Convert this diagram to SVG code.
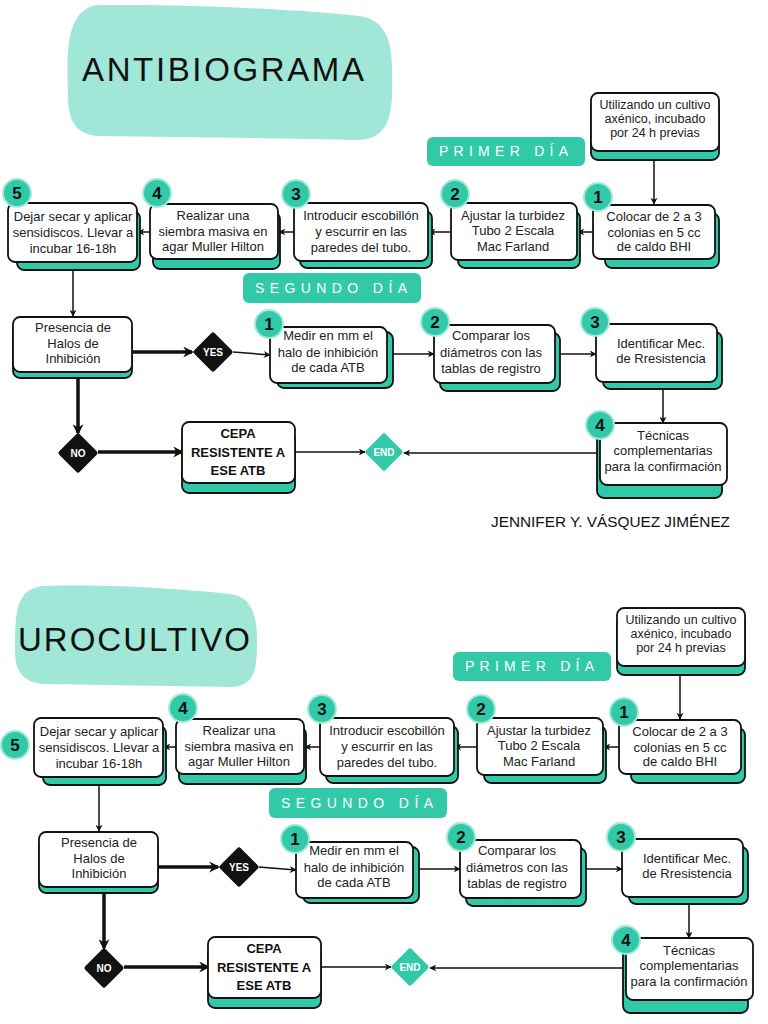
<svg xmlns="http://www.w3.org/2000/svg" width="768" height="1024" viewBox="0 0 768 1024">
<style>
.blob{fill:#a0e7d7}
.title{font-family:"Liberation Sans",Arial,sans-serif;font-size:33px;fill:#111}
.lab{fill:#31c9a7}
.labt{font-family:"Liberation Sans",Arial,sans-serif;font-size:14px;fill:#fff}
.sh{fill:#31c9a7;stroke:#111;stroke-width:1.8}
.bx{fill:#fff;stroke:#111;stroke-width:1.8}
.t{font-family:"Liberation Sans",Arial,sans-serif;font-size:13px;fill:#222;text-anchor:middle}
.tb{font-family:"Liberation Sans",Arial,sans-serif;font-size:13px;font-weight:bold;fill:#111;text-anchor:middle}
.nc{fill:#31c9a7;stroke:#a3e8d8;stroke-width:2}
.nt{font-family:"Liberation Sans",Arial,sans-serif;font-size:17px;font-weight:bold;fill:#111;text-anchor:middle}
.dk{fill:#111;stroke:#111;stroke-width:5;stroke-linejoin:round}
.dt{fill:#31c9a7;stroke:#31c9a7;stroke-width:5;stroke-linejoin:round}
.dtx{font-family:"Liberation Sans",Arial,sans-serif;font-size:10px;font-weight:bold;fill:#fff;text-anchor:middle}
.c{stroke:#111;stroke-width:1.5;fill:none}
.ck{stroke:#111;stroke-width:3.5;fill:none}
.auth{font-family:"Liberation Sans",Arial,sans-serif;font-size:14.5px;fill:#111}
</style>
<defs>
<marker id="ah" viewBox="0 0 10 10" refX="9" refY="5" markerWidth="7" markerHeight="7" markerUnits="userSpaceOnUse" orient="auto"><path d="M0,0 L10,5 L0,10 L3,5 z" fill="#111"/></marker>
<marker id="ahk" viewBox="0 0 10 10" refX="8" refY="5" markerWidth="11" markerHeight="11" markerUnits="userSpaceOnUse" orient="auto"><path d="M0,0 L10,5 L0,10 L3,5 z" fill="#111"/></marker>
</defs>
<rect width="768" height="1024" fill="#fff"/>

<!-- ============ ANTIBIOGRAMA ============ -->
<g id="antibiograma">
<g id="a-title">
<path class="blob" d="M100 5 C200 4 300 10 360 16 C385 20 392 40 392 70 C393 110 392 138 360 140 C280 138 180 137 100 136 C75 135 68 120 68 95 C67 60 66 30 80 14 C86 8 92 5 100 5 Z"/>
<text class="title" x="82" y="81" textLength="282" lengthAdjust="spacing">ANTIBIOGRAMA</text>
</g>
<g id="a-primer">
<rect class="lab" x="427" y="137" width="158" height="29" rx="6"/>
<text class="labt" x="439" y="156" textLength="129" lengthAdjust="spacing">PRIMER DÍA</text>
</g>
<g id="a-segundo">
<rect class="lab" x="243" y="273" width="178" height="30" rx="6"/>
<text class="labt" x="255" y="293" textLength="152" lengthAdjust="spacing">SEGUNDO DÍA</text>
</g>

<g id="a-connectors">
<path class="c" d="M654 160 V204" marker-end="url(#ah)"/>
<path class="c" d="M593 232 H578" marker-end="url(#ah)"/>
<path class="c" d="M451 232 H429" marker-end="url(#ah)"/>
<path class="c" d="M294 232 H279" marker-end="url(#ah)"/>
<path class="c" d="M150 232 H138" marker-end="url(#ah)"/>
<path class="c" d="M73 270 V316" marker-end="url(#ah)"/>
<path class="ck" d="M132 352 H192" marker-end="url(#ahk)"/>
<path class="c" d="M233 352 L270 355" marker-end="url(#ah)"/>
<path class="ck" d="M78 378 V433" marker-end="url(#ahk)"/>
<path class="ck" d="M98 452 H182" marker-end="url(#ahk)"/>
<path class="c" d="M295 452 H365" marker-end="url(#ah)"/>
<path class="c" d="M387 354 H434" marker-end="url(#ah)"/>
<path class="c" d="M547 354 H596" marker-end="url(#ah)"/>
<path class="c" d="M663 389 V423" marker-end="url(#ah)"/>
<path class="c" d="M597 453 H404" marker-end="url(#ah)"/>
</g>

<g id="a-utilizando">
<rect class="sh" x="591" y="101" width="128" height="59" rx="7"/>
<rect class="bx" x="591" y="93" width="128" height="58" rx="7"/>
<text class="t" style="font-size:12.5px"><tspan x="655" y="109">Utilizando un cultivo</tspan><tspan x="655" y="123">axénico, incubado</tspan><tspan x="655" y="137">por 24 h previas</tspan></text>
</g>
<g id="a-colocar">
<rect class="sh" x="605" y="213" width="114" height="55" rx="7"/>
<rect class="bx" x="593" y="205" width="122" height="54" rx="7"/>
<text class="t"><tspan x="654" y="221">Colocar de 2 a 3</tspan><tspan x="654" y="236.5">colonias en 5 cc</tspan><tspan x="654" y="251">de caldo BHI</tspan></text>
<circle class="nc" cx="598" cy="197" r="14"/><text class="nt" x="598" y="203">1</text>
</g>
<g id="a-ajustar">
<rect class="sh" x="458" y="211" width="122" height="57" rx="7"/>
<rect class="bx" x="451" y="203" width="126" height="57" rx="7"/>
<text class="t"><tspan x="513" y="219.5">Ajustar la turbidez</tspan><tspan x="513" y="235">Tubo 2 Escala</tspan><tspan x="513" y="250.5">Mac Farland</tspan></text>
<circle class="nc" cx="455" cy="194" r="14"/><text class="nt" x="455" y="200">2</text>
</g>
<g id="a-introducir">
<rect class="sh" x="300" y="211" width="132" height="57" rx="7"/>
<rect class="bx" x="294" y="203" width="134" height="58" rx="7"/>
<text class="t"><tspan x="361" y="220">Introducir escobillón</tspan><tspan x="361" y="236">y escurrir en las</tspan><tspan x="361" y="251.5">paredes del tubo.</tspan></text>
<circle class="nc" cx="296" cy="194" r="14"/><text class="nt" x="296" y="200">3</text>
</g>
<g id="a-realizar">
<rect class="sh" x="153" y="212" width="127" height="57" rx="7"/>
<rect class="bx" x="150" y="204" width="128" height="55" rx="7"/>
<text class="t"><tspan x="213" y="219.5">Realizar una</tspan><tspan x="213" y="236">siembra masiva en</tspan><tspan x="213" y="251">agar Muller Hilton</tspan></text>
<circle class="nc" cx="157" cy="193" r="14"/><text class="nt" x="157" y="199">4</text>
</g>
<g id="a-dejar">
<rect class="sh" x="17" y="211" width="123" height="59" rx="7"/>
<rect class="bx" x="8" y="203" width="129" height="59" rx="7"/>
<text class="t"><tspan x="73" y="221">Dejar secar y aplicar</tspan><tspan x="73" y="236.5">sensidiscos. Llevar a</tspan><tspan x="73" y="252.5">incubar 16-18h</tspan></text>
<circle class="nc" cx="17" cy="193" r="14"/><text class="nt" x="17" y="199">5</text>
</g>
<g id="a-presencia">
<rect class="sh" x="13" y="325" width="119" height="53" rx="7"/>
<rect class="bx" x="13" y="317" width="119" height="55" rx="7"/>
<text class="t"><tspan x="73" y="331.5">Presencia de</tspan><tspan x="73" y="347.5">Halos de</tspan><tspan x="73" y="363">Inhibición</tspan></text>
</g>
<g id="a-yes">
<path class="dk" d="M213 335 L230 352 L213 369 L196 352 Z"/>
<text class="dtx" x="213" y="356">YES</text>
</g>
<g id="a-no">
<path class="dk" d="M78 436 L95 453 L78 470 L61 453 Z"/>
<text class="dtx" x="78" y="457">NO</text>
</g>
<g id="a-end">
<path class="dt" d="M384 436 L400 452 L384 468 L368 452 Z"/>
<text class="dtx" x="384" y="456">END</text>
</g>
<g id="a-medir">
<rect class="sh" x="277" y="332" width="116" height="56" rx="7"/>
<rect class="bx" x="270" y="327" width="117" height="56" rx="7"/>
<text class="t"><tspan x="328" y="340">Medir en mm el</tspan><tspan x="328" y="356.5">halo  de inhibición</tspan><tspan x="328" y="372">de cada ATB</tspan></text>
<circle class="nc" cx="269" cy="324" r="14"/><text class="nt" x="269" y="330">1</text>
</g>
<g id="a-comparar">
<rect class="sh" x="440" y="333" width="120" height="58" rx="7"/>
<rect class="bx" x="434" y="325" width="121" height="58" rx="7"/>
<text class="t"><tspan x="491" y="340">Comparar los</tspan><tspan x="491" y="356.5">diámetros con las</tspan><tspan x="491" y="372.5">tablas de registro</tspan></text>
<circle class="nc" cx="435" cy="322" r="14"/><text class="nt" x="435" y="328">2</text>
</g>
<g id="a-identificar">
<rect class="sh" x="603" y="332" width="119" height="57" rx="7"/>
<rect class="bx" x="596" y="324" width="121" height="58" rx="7"/>
<text class="t"><tspan x="661" y="347.5">Identificar Mec.</tspan><tspan x="661" y="363">de Rresistencia</tspan></text>
<circle class="nc" cx="595" cy="322" r="14"/><text class="nt" x="595" y="328">3</text>
</g>
<g id="a-tecnicas">
<rect class="sh" x="597" y="433" width="125" height="65" rx="7"/>
<rect class="bx" x="600" y="423" width="127" height="62" rx="7"/>
<text class="t"><tspan x="663" y="439.5">Técnicas</tspan><tspan x="663" y="455">complementarias</tspan><tspan x="663" y="471">para la confirmación</tspan></text>
<circle class="nc" cx="600" cy="425" r="14"/><text class="nt" x="600" y="431">4</text>
</g>
<g id="a-cepa">
<rect class="sh" x="182" y="432" width="113" height="61" rx="7"/>
<rect class="bx" x="182" y="422" width="113" height="61" rx="7"/>
<text class="tb"><tspan x="238" y="437.5">CEPA</tspan><tspan x="238" y="456.5">RESISTENTE A</tspan><tspan x="238" y="475">ESE ATB</tspan></text>
</g>
<text id="author" class="auth" x="491" y="527" textLength="239" lengthAdjust="spacingAndGlyphs">JENNIFER Y. VÁSQUEZ JIMÉNEZ</text>
</g>

<!-- ============ UROCULTIVO ============ -->
<g id="u-title">
<path class="blob" d="M45 586 C120 584 190 590 230 594 C252 597 257 615 257 640 C257 670 255 686 230 687 C170 686 100 685 45 684 C22 683 15 670 15 650 C15 620 16 600 28 591 C33 588 38 586 45 586 Z"/>
<text class="title" x="18" y="651" textLength="232" lengthAdjust="spacing">UROCULTIVO</text>
</g>
<g id="urocultivo" transform="translate(26,515)">
<g id="u-primer">
<rect class="lab" x="427" y="137" width="158" height="29" rx="6"/>
<text class="labt" x="439" y="156" textLength="129" lengthAdjust="spacing">PRIMER DÍA</text>
</g>
<g id="u-segundo">
<rect class="lab" x="243" y="273" width="178" height="30" rx="6"/>
<text class="labt" x="255" y="293" textLength="152" lengthAdjust="spacing">SEGUNDO DÍA</text>
</g>

<g id="u-connectors">
<path class="c" d="M654 160 V204" marker-end="url(#ah)"/>
<path class="c" d="M593 232 H578" marker-end="url(#ah)"/>
<path class="c" d="M451 232 H429" marker-end="url(#ah)"/>
<path class="c" d="M294 232 H279" marker-end="url(#ah)"/>
<path class="c" d="M150 232 H138" marker-end="url(#ah)"/>
<path class="c" d="M73 270 V316" marker-end="url(#ah)"/>
<path class="ck" d="M132 352 H192" marker-end="url(#ahk)"/>
<path class="c" d="M233 352 L270 355" marker-end="url(#ah)"/>
<path class="ck" d="M78 378 V433" marker-end="url(#ahk)"/>
<path class="ck" d="M98 452 H182" marker-end="url(#ahk)"/>
<path class="c" d="M295 452 H365" marker-end="url(#ah)"/>
<path class="c" d="M387 354 H434" marker-end="url(#ah)"/>
<path class="c" d="M547 354 H596" marker-end="url(#ah)"/>
<path class="c" d="M663 389 V423" marker-end="url(#ah)"/>
<path class="c" d="M597 453 H404" marker-end="url(#ah)"/>
</g>

<g id="u-utilizando">
<rect class="sh" x="591" y="101" width="128" height="59" rx="7"/>
<rect class="bx" x="591" y="93" width="128" height="58" rx="7"/>
<text class="t" style="font-size:12.5px"><tspan x="655" y="109">Utilizando un cultivo</tspan><tspan x="655" y="123">axénico, incubado</tspan><tspan x="655" y="137">por 24 h previas</tspan></text>
</g>
<g id="u-colocar">
<rect class="sh" x="605" y="213" width="114" height="55" rx="7"/>
<rect class="bx" x="593" y="205" width="122" height="54" rx="7"/>
<text class="t"><tspan x="654" y="221">Colocar de 2 a 3</tspan><tspan x="654" y="236.5">colonias en 5 cc</tspan><tspan x="654" y="251">de caldo BHI</tspan></text>
<circle class="nc" cx="598" cy="197" r="14"/><text class="nt" x="598" y="203">1</text>
</g>
<g id="u-ajustar">
<rect class="sh" x="458" y="211" width="122" height="57" rx="7"/>
<rect class="bx" x="451" y="203" width="126" height="57" rx="7"/>
<text class="t"><tspan x="513" y="219.5">Ajustar la turbidez</tspan><tspan x="513" y="235">Tubo 2 Escala</tspan><tspan x="513" y="250.5">Mac Farland</tspan></text>
<circle class="nc" cx="455" cy="194" r="14"/><text class="nt" x="455" y="200">2</text>
</g>
<g id="u-introducir">
<rect class="sh" x="300" y="211" width="132" height="57" rx="7"/>
<rect class="bx" x="294" y="203" width="134" height="58" rx="7"/>
<text class="t"><tspan x="361" y="220">Introducir escobillón</tspan><tspan x="361" y="236">y escurrir en las</tspan><tspan x="361" y="251.5">paredes del tubo.</tspan></text>
<circle class="nc" cx="296" cy="194" r="14"/><text class="nt" x="296" y="200">3</text>
</g>
<g id="u-realizar">
<rect class="sh" x="153" y="212" width="127" height="57" rx="7"/>
<rect class="bx" x="150" y="204" width="128" height="55" rx="7"/>
<text class="t"><tspan x="213" y="219.5">Realizar una</tspan><tspan x="213" y="236">siembra masiva en</tspan><tspan x="213" y="251">agar Muller Hilton</tspan></text>
<circle class="nc" cx="157" cy="193" r="14"/><text class="nt" x="157" y="199">4</text>
</g>
<g id="u-dejar">
<rect class="sh" x="17" y="211" width="123" height="59" rx="7"/>
<rect class="bx" x="8" y="203" width="129" height="59" rx="7"/>
<text class="t"><tspan x="73" y="221">Dejar secar y aplicar</tspan><tspan x="73" y="236.5">sensidiscos. Llevar a</tspan><tspan x="73" y="252.5">incubar 16-18h</tspan></text>
<circle class="nc" cx="-11" cy="230" r="14"/><text class="nt" x="-11" y="236">5</text>
</g>
<g id="u-presencia">
<rect class="sh" x="13" y="325" width="119" height="53" rx="7"/>
<rect class="bx" x="13" y="317" width="119" height="55" rx="7"/>
<text class="t"><tspan x="73" y="331.5">Presencia de</tspan><tspan x="73" y="347.5">Halos de</tspan><tspan x="73" y="363">Inhibición</tspan></text>
</g>
<g id="u-yes">
<path class="dk" d="M213 335 L230 352 L213 369 L196 352 Z"/>
<text class="dtx" x="213" y="356">YES</text>
</g>
<g id="u-no">
<path class="dk" d="M78 436 L95 453 L78 470 L61 453 Z"/>
<text class="dtx" x="78" y="457">NO</text>
</g>
<g id="u-end">
<path class="dt" d="M384 436 L400 452 L384 468 L368 452 Z"/>
<text class="dtx" x="384" y="456">END</text>
</g>
<g id="u-medir">
<rect class="sh" x="277" y="332" width="116" height="56" rx="7"/>
<rect class="bx" x="270" y="327" width="117" height="56" rx="7"/>
<text class="t"><tspan x="328" y="340">Medir en mm el</tspan><tspan x="328" y="356.5">halo  de inhibición</tspan><tspan x="328" y="372">de cada ATB</tspan></text>
<circle class="nc" cx="269" cy="324" r="14"/><text class="nt" x="269" y="330">1</text>
</g>
<g id="u-comparar">
<rect class="sh" x="440" y="333" width="120" height="58" rx="7"/>
<rect class="bx" x="434" y="325" width="121" height="58" rx="7"/>
<text class="t"><tspan x="491" y="340">Comparar los</tspan><tspan x="491" y="356.5">diámetros con las</tspan><tspan x="491" y="372.5">tablas de registro</tspan></text>
<circle class="nc" cx="435" cy="322" r="14"/><text class="nt" x="435" y="328">2</text>
</g>
<g id="u-identificar">
<rect class="sh" x="603" y="332" width="119" height="57" rx="7"/>
<rect class="bx" x="596" y="324" width="121" height="58" rx="7"/>
<text class="t"><tspan x="661" y="347.5">Identificar Mec.</tspan><tspan x="661" y="363">de Rresistencia</tspan></text>
<circle class="nc" cx="595" cy="322" r="14"/><text class="nt" x="595" y="328">3</text>
</g>
<g id="u-tecnicas">
<rect class="sh" x="597" y="433" width="125" height="65" rx="7"/>
<rect class="bx" x="600" y="423" width="127" height="62" rx="7"/>
<text class="t"><tspan x="663" y="439.5">Técnicas</tspan><tspan x="663" y="455">complementarias</tspan><tspan x="663" y="471">para la confirmación</tspan></text>
<circle class="nc" cx="600" cy="425" r="14"/><text class="nt" x="600" y="431">4</text>
</g>
<g id="u-cepa">
<rect class="sh" x="182" y="432" width="113" height="61" rx="7"/>
<rect class="bx" x="182" y="422" width="113" height="61" rx="7"/>
<text class="tb"><tspan x="238" y="437.5">CEPA</tspan><tspan x="238" y="456.5">RESISTENTE A</tspan><tspan x="238" y="475">ESE ATB</tspan></text>
</g>
</g>
</svg>
